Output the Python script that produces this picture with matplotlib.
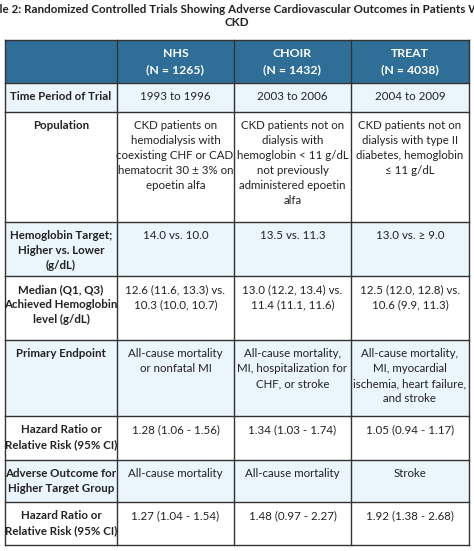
import matplotlib
matplotlib.use("Agg")
import matplotlib.pyplot as plt
from matplotlib.patches import Rectangle

plt.rcParams['font.family'] = ['Lato', 'DejaVu Sans']

title = "Table 2: Randomized Controlled Trials Showing Adverse Cardiovascular Outcomes in Patients With\nCKD"
headers = ["", "NHS\n(N = 1265)", "CHOIR\n(N = 1432)", "TREAT\n(N = 4038)"]
row_labels = [
    "Time Period of Trial",
    "Population",
    "Hemoglobin Target;\nHigher vs. Lower\n(g/dL)",
    "Median (Q1, Q3)\nAchieved Hemoglobin\nlevel (g/dL)",
    "Primary Endpoint",
    "Hazard Ratio or\nRelative Risk (95% CI)",
    "Adverse Outcome for\nHigher Target Group",
    "Hazard Ratio or\nRelative Risk (95% CI)",
]
nhs = [
    "1993 to 1996",
    "CKD patients on\nhemodialysis with\ncoexisting CHF or CAD,\nhematocrit 30 ± 3% on\nepoetin alfa",
    "14.0 vs. 10.0",
    "12.6 (11.6, 13.3) vs.\n10.3 (10.0, 10.7)",
    "All-cause mortality\nor nonfatal MI",
    "1.28 (1.06 - 1.56)",
    "All-cause mortality",
    "1.27 (1.04 - 1.54)",
]
choir = [
    "2003 to 2006",
    "CKD patients not on\ndialysis with\nhemoglobin < 11 g/dL\nnot previously\nadministered epoetin\nalfa",
    "13.5 vs. 11.3",
    "13.0 (12.2, 13.4) vs.\n11.4 (11.1, 11.6)",
    "All-cause mortality,\nMI, hospitalization for\nCHF, or stroke",
    "1.34 (1.03 - 1.74)",
    "All-cause mortality",
    "1.48 (0.97 - 2.27)",
]
treat = [
    "2004 to 2009",
    "CKD patients not on\ndialysis with type II\ndiabetes, hemoglobin\n≤ 11 g/dL",
    "13.0 vs. ≥ 9.0",
    "12.5 (12.0, 12.8) vs.\n10.6 (9.9, 11.3)",
    "All-cause mortality,\nMI, myocardial\nischemia, heart failure,\nand stroke",
    "1.05 (0.94 - 1.17)",
    "Stroke",
    "1.92 (1.38 - 2.68)",
]

W, H = 474, 551
fig = plt.figure(figsize=(W/100, H/100), dpi=100)
ax = fig.add_axes([0, 0, 1, 1])
ax.set_xlim(0, W); ax.set_ylim(H, 0); ax.axis('off')

xs = [5, 117, 234, 351, 469]
ys = [40, 83, 112, 222, 276, 340, 416, 460, 502, 545]
header_col = "#2f6f97"
light = "#eaf5fc"
edge = "#333333"
fs = 8.3

ax.text(W/2, 16, title, ha='center', va='center', fontsize=8.4, fontweight='bold',
        color='#222222', linespacing=1.15)

ax.add_patch(Rectangle((xs[0], ys[0]), xs[-1]-xs[0], ys[1]-ys[0], facecolor=header_col, edgecolor='none'))
for j in range(1, 4):
    ax.text((xs[j]+xs[j+1])/2, (ys[0]+ys[1])/2, headers[j], ha='center', va='center',
            fontsize=8.8, fontweight='bold', color='white', linespacing=1.5)

cols = [row_labels, nhs, choir, treat]
for i in range(len(row_labels)):
    y0, y1 = ys[i+1], ys[i+2]
    fc = light if i % 2 == 0 else 'white'
    ax.add_patch(Rectangle((xs[0], y0), xs[-1]-xs[0], y1-y0, facecolor=fc, edgecolor='none'))
    for j in range(4):
        ax.text((xs[j]+xs[j+1])/2, y0 + 8, cols[j][i], ha='center', va='top', fontsize=fs,
                fontweight='bold' if j == 0 else 'normal', color='#222222', linespacing=1.45)

for x in xs:
    ax.plot([x, x], [ys[0], ys[-1]], color=edge, lw=1)
for y in ys:
    ax.plot([xs[0], xs[-1]], [y, y], color=edge, lw=1)

fig.savefig("out.png", dpi=100)
